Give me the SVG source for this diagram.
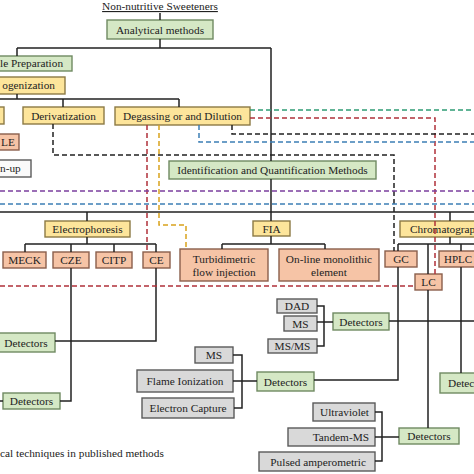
<svg xmlns="http://www.w3.org/2000/svg" width="474" height="474" viewBox="0 0 474 474">
<style>
rect{stroke-width:1.4}
.g{fill:#d5e8c5;stroke:#6f8a62}
.y{fill:#fde59b;stroke:#8c7a45}
.s{fill:#f6c4a6;stroke:#8a5f4c}
.w{fill:#d9d9d9;stroke:#5a5a5a}
.c{fill:#fafafa;stroke:#5a5a5a}
text{font-family:"Liberation Serif","Times New Roman",serif;font-size:11.3px;fill:#222}
.m{text-anchor:middle}
.e{text-anchor:end}
.ln{fill:none;stroke:#222;stroke-width:1.5}
.d{fill:none;stroke-width:1.5;stroke-dasharray:5,3}
</style>
<rect x="0" y="0" width="474" height="474" fill="#ffffff"/>
<text x="160" y="10" class="m" text-decoration="underline">Non-nutritive Sweeteners</text>
<g id="analytical"><rect class="g" x="107" y="20" width="106" height="19"/><text x="160" y="33.5" class="m">Analytical methods</text></g>
<g id="sample-prep"><rect class="g" x="-5" y="56" width="77" height="15"/><text x="0" y="67">le Preparation</text></g>
<g id="homogenization"><rect class="y" x="-5" y="77" width="70" height="17"/><text x="55" y="89" class="e">ogenization</text></g>
<g id="extraction"><rect class="y" x="-20" y="107" width="24" height="17"/></g>
<g id="derivatization"><rect class="y" x="23" y="107" width="81" height="17"/><text x="63.5" y="119.5" class="m">Derivatization</text></g>
<g id="degassing"><rect class="y" x="115" y="107" width="135" height="18"/><text x="182.5" y="120" class="m">Degassing or and Dilution</text></g>
<g id="lle"><rect class="s" x="-10" y="134" width="29" height="16"/><text x="1" y="146">LE</text></g>
<g id="cleanup"><rect class="c" x="-10" y="160" width="41" height="17"/><text x="0" y="172">n-up</text></g>
<g id="identification"><rect class="g" x="169" y="161" width="207" height="18"/><text x="272.5" y="174" class="m">Identification and Quantification Methods</text></g>
<g id="electrophoresis"><rect class="y" x="45" y="221" width="85" height="16"/><text x="87.5" y="233" class="m">Electrophoresis</text></g>
<g id="fia"><rect class="y" x="253" y="221" width="37" height="15"/><text x="271.5" y="232.5" class="m">FIA</text></g>
<g id="chromatography"><rect class="y" x="400" y="221" width="90" height="16"/><text x="410" y="233">Chromatograp</text></g>
<g id="meck"><rect class="s" x="3" y="252" width="43" height="16"/><text x="24.5" y="264" class="m">MECK</text></g>
<g id="cze"><rect class="s" x="53" y="252" width="36" height="16"/><text x="71" y="264" class="m">CZE</text></g>
<g id="citp"><rect class="s" x="96" y="252" width="36" height="16"/><text x="114" y="264" class="m">CITP</text></g>
<g id="ce"><rect class="s" x="143" y="252" width="27" height="16"/><text x="156.5" y="264" class="m">CE</text></g>
<g id="turbidimetric"><rect class="s" x="180" y="249" width="88" height="32"/><text x="224" y="263" class="m">Turbidimetric</text><text x="224" y="276" class="m">flow injection</text></g>
<g id="online"><rect class="s" x="279" y="249" width="100" height="32"/><text x="329" y="263" class="m">On-line monolithic</text><text x="329" y="276" class="m">element</text></g>
<g id="gc"><rect class="s" x="385" y="251" width="32" height="16"/><text x="401" y="263" class="m">GC</text></g>
<g id="lc"><rect class="s" x="415" y="274" width="27" height="16"/><text x="428.5" y="286" class="m">LC</text></g>
<g id="hplc"><rect class="s" x="439" y="251" width="50" height="16"/><text x="444" y="263" style="font-size:11px">HPLC</text></g>
<g id="dad"><rect class="w" x="277" y="299" width="40" height="14"/><text x="297" y="310" class="m">DAD</text></g>
<g id="ms1"><rect class="w" x="284" y="316" width="33" height="15"/><text x="300.5" y="327.5" class="m">MS</text></g>
<g id="msms"><rect class="w" x="268" y="339" width="49" height="14"/><text x="292.5" y="350" class="m">MS/MS</text></g>
<g id="det-top"><rect class="g" x="333" y="313" width="56" height="17"/><text x="361" y="325.5" class="m">Detectors</text></g>
<g id="ms2"><rect class="w" x="195" y="347" width="38" height="16"/><text x="214" y="359" class="m">MS</text></g>
<g id="flame"><rect class="w" x="137" y="370" width="96" height="22"/><text x="185" y="385" class="m">Flame Ionization</text></g>
<g id="electron"><rect class="w" x="142" y="398" width="92" height="20"/><text x="188" y="412" class="m">Electron Capture</text></g>
<g id="det-gc"><rect class="g" x="257" y="372" width="57" height="19"/><text x="285.5" y="385.5" class="m">Detectors</text></g>
<g id="det-hplc"><rect class="g" x="440" y="373" width="50" height="20"/><text x="448" y="387">Detec</text></g>
<g id="uv"><rect class="w" x="313" y="403" width="62" height="18"/><text x="369" y="416" class="e">Ultraviolet</text></g>
<g id="tandem"><rect class="w" x="288" y="428" width="87" height="18"/><text x="369" y="441" class="e">Tandem-MS</text></g>
<g id="pulsed"><rect class="w" x="259" y="452" width="116" height="19"/><text x="366" y="465.5" class="e">Pulsed amperometric</text></g>
<g id="det-lc"><rect class="g" x="399" y="428" width="60" height="16"/><text x="429" y="440" class="m">Detectors</text></g>
<g id="det-ce"><rect class="g" x="-5" y="333" width="60" height="19"/><text x="26" y="346.5" class="m">Detectors</text></g>
<g id="det-cze"><rect class="g" x="3" y="393" width="57" height="16"/><text x="31.5" y="405" class="m">Detectors</text></g>
<text x="0" y="457">cal techniques in published methods</text>
<g id="connectors">
<path class="ln" d="M160,13V20M160,39V48M17,48H271M17,48V56M271,48V161M271,179V221M17,94V99M0,99H179M63,99V107M179,99V107"/>
<path class="ln" d="M0,212H474M87,212V221M87,237V244M25,244H156M25,244V252M71,244V252M114,244V252M156,244V252"/>
<path class="ln" d="M271,236V244M222,244H325M222,244V249M325,244V249"/>
<path class="ln" d="M450,212V221M450,237V244M398,244H474M398,244V251M428,244V274M461,244V251"/>
<path class="ln" d="M398,267V380H314M461,267V373M428,290V428M389,321H474"/>
<path class="ln" d="M317,306H324V346H317M317,322H333"/>
<path class="ln" d="M233,355H242V408H234M233,381H257"/>
<path class="ln" d="M375,412H382V461H375M375,437H399"/>
<path class="ln" d="M156,268V341H55M71,268V401H60M0,401H3"/>
<path class="d" stroke="#222" d="M53,124V155H394V251"/>
<path class="d" stroke="#2e9c74" d="M250,110H474"/>
<path class="d" stroke="#b0303a" d="M250,118H435V274"/>
<path class="d" stroke="#b0303a" d="M147,125V252"/>
<path class="d" stroke="#b0303a" d="M0,286H415"/>
<path class="d" stroke="#d9a21c" d="M159,125V225H186V249"/>
<path class="d" stroke="#3d7fb5" d="M199,125V142H474"/>
<path class="d" stroke="#222" d="M232,125V134H474"/>
<path class="d" stroke="#7b3f9e" d="M0,191H474"/>
<path class="d" stroke="#3d7fb5" d="M0,204H474"/>
</g>
</svg>
